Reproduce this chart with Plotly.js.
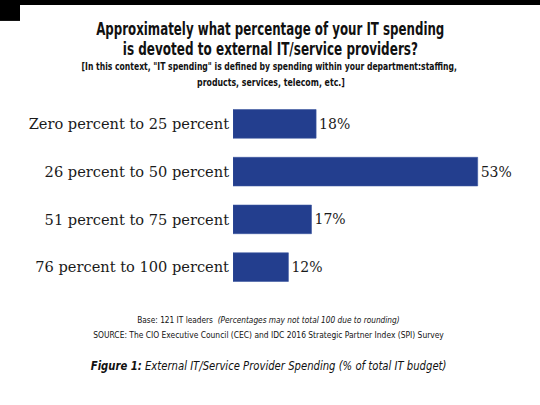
<!DOCTYPE html>
<html>
<head>
<meta charset="utf-8">
<script src="https://cdn.plot.ly/plotly-3.0.1.min.js"></script>
<style>
  html, body { margin: 0; padding: 0; background: #fff; }
  #chart { width: 540px; height: 405px; }
</style>
</head>
<body>
<div id="chart"></div>
<script>
// ---------- DATA ----------
const categories = [
  "Zero percent to 25 percent",
  "26 percent to 50 percent",
  "51 percent to 75 percent",
  "76 percent to 100 percent"
];
const shares = [18, 53, 17, 12];
const shareLabels = ["18%", "53%", "17%", "12%"];

// ---------- LAYOUT HELPERS ----------
// plot area in pixels
const L = 233, R = 510, T = 99.5, B = 291.5;
const px = x => (x - L) / (R - L);
const py = y => (B - y) / (B - T);

const narrow = "'DejaVu Sans Condensed', 'Liberation Sans Narrow', sans-serif";
const serif = "'DejaVu Serif', 'Liberation Serif', serif";

// text lines: [html, centre x, centre y, size, width in px]
const notes = [
  ["<b>Approximately what percentage of your IT spending</b>", 270, 28.5, 16.8, 348],
  ["<b>is devoted to external IT/service providers?</b>", 270.5, 48.5, 16.8, 295],
  ["<b>[In this context, \"IT spending\" is defined by spending within your department:staffing,</b>", 269, 66, 10, 376],
  ["<b>products, services, telecom, etc.]</b>", 271, 82, 10, 148],
  ["Base: 121 IT leaders  <i>(Percentages may not total 100 due to rounding)</i>", 268.5, 320, 9.5, 263],
  ["SOURCE: The CIO Executive Council (CEC) and IDC 2016 Strategic Partner Index (SPI) Survey", 268.5, 335, 9.5, 351],
  ["<b><i>Figure 1:</i></b><i> External IT/Service Provider Spending (% of total IT budget)</i>", 268, 366, 12.5, 356]
];

const trace = {
  type: "bar",
  orientation: "h",
  y: categories,
  x: shares,
  text: shareLabels,
  textposition: "outside",
  cliponaxis: false,
  textfont: { family: serif, size: 14, color: "#1a1a1a" },
  marker: { color: "#233e8e", line: { color: "#3b56a0", width: 0.6 } },
  hoverinfo: "skip"
};

const layout = {
  width: 540,
  height: 405,
  margin: { l: L, r: 540 - R, t: T, b: 405 - B, pad: 0 },
  paper_bgcolor: "#fff",
  plot_bgcolor: "#fff",
  showlegend: false,
  bargap: 0.4,
  xaxis: { range: [0, 60], visible: false, fixedrange: true },
  yaxis: {
    autorange: "reversed",
    showline: false, showgrid: false, zeroline: false,
    ticks: "", ticklen: 0,
    ticklabelstandoff: 3,
    tickfont: { family: serif, size: 14.6, color: "#1a1a1a" },
    automargin: false
  },
  shapes: [
    { type: "rect", xref: "paper", yref: "paper", x0: px(-2), x1: px(542), y0: py(4), y1: py(-2),
      fillcolor: "#000", line: { width: 0 } },
    { type: "rect", xref: "paper", yref: "paper", x0: px(-2), x1: px(20), y0: py(20), y1: py(-2),
      fillcolor: "#000", line: { width: 0 } }
  ],
  annotations: notes.map(n => ({
    xref: "paper", yref: "paper",
    x: px(n[1]), y: py(n[2]),
    xanchor: "center", yanchor: "middle",
    showarrow: false,
    text: n[0],
    font: { family: narrow, size: n[3], color: "#111" }
  }))
};

Plotly.newPlot("chart", [trace], layout, { displayModeBar: false, staticPlot: true })
  .then(gd => {
    // squeeze the sans lines horizontally to the condensed widths of the original
    notes.forEach((n, i) => {
      const t = gd.querySelector('g.annotation[data-index="' + i + '"] text.annotation-text');
      if (!t) return;
      const w = t.getBBox().width;
      const cx = parseFloat(t.getAttribute("x")) || 0;
      const sx = n[4] / w;
      t.setAttribute("transform", "translate(" + (cx * (1 - sx)) + ",0) scale(" + sx + ",1)");
    });
  });
</script>
</body>
</html>
